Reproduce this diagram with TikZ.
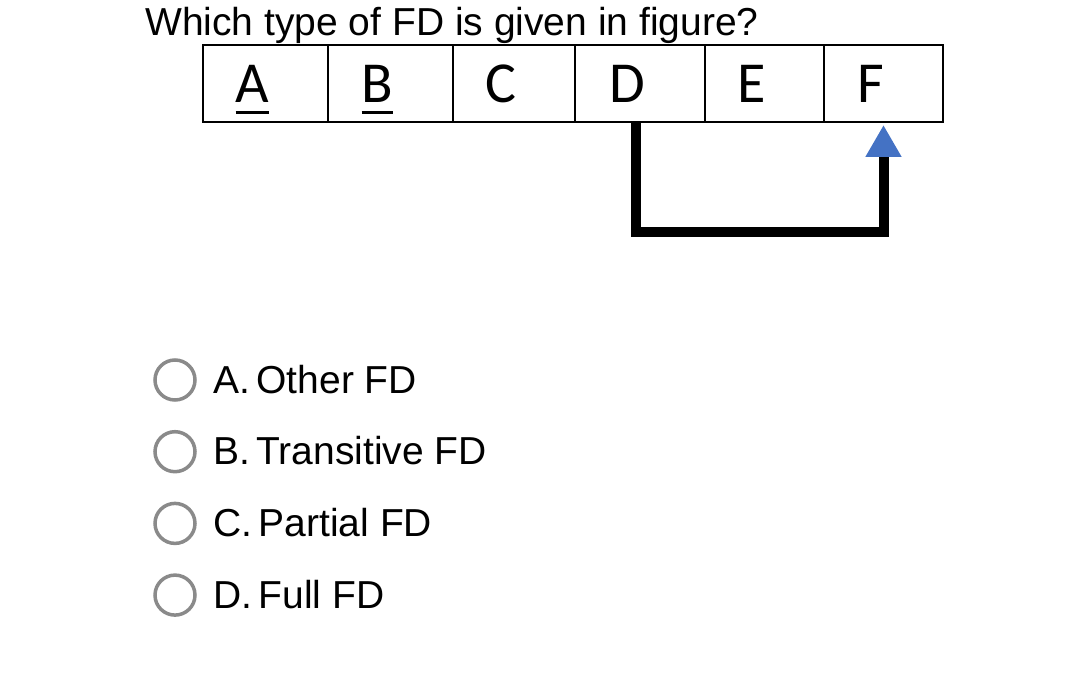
\documentclass[tikz,border=0pt]{standalone}
\usepackage{fontspec}
\setmainfont{Liberation Sans}
\newfontfamily\cellfont{Carlito}
\usetikzlibrary{positioning,arrows.meta}
\definecolor{fdblue}{HTML}{4472C4}
\definecolor{radiogray}{HTML}{8A8A8A}

\begin{document}
\begin{tikzpicture}[x=1pt,y=1pt]
\tikzstyle{cell}=[rectangle,draw,line width=2pt,outer sep=0pt,minimum height=77pt]
\tikzstyle{letter}=[inner sep=0pt,font=\cellfont\fontsize{58}{62}\selectfont]
\tikzstyle{uline}=[line width=2.5pt]
\tikzstyle{fdarrow}=[line width=10pt,-{Triangle[length=32pt,width=34pt,color=fdblue]}]
\tikzstyle{radio}=[circle,draw=radiogray,line width=3.5pt,minimum size=40pt,inner sep=0pt]
\tikzstyle{answer}=[anchor=base west,inner sep=0pt,font=\fontsize{39}{45}\selectfont]
\useasboundingbox (0,0) rectangle (1080,-682);

\node[answer] (title) at (145,-36) {Which type of FD is given in figure?};

% relation
\node[cell,minimum width=125pt] (cA) at (265.5,-83.5) {};
\node[cell,minimum width=125pt,right=0pt of cA] (cB) {};
\node[cell,minimum width=122pt,right=0pt of cB] (cC) {};
\node[cell,minimum width=130pt,right=0pt of cC] (cD) {};
\node[cell,minimum width=119pt,right=0pt of cD] (cE) {};
\node[cell,minimum width=119pt,right=0pt of cE] (cF) {};

\foreach \c in {A,B,C,D,E,F}
  \node[letter] (l\c) at ([xshift=-13pt]c\c.center) {\c};

% key attributes
\draw[uline] ([yshift=-10pt]lA.south west) -- ([yshift=-10pt]lA.south east);
\draw[uline] ([yshift=-10pt]lB.south west) -- ([yshift=-10pt]lB.south east);

% D -> F
\coordinate (turn) at ([yshift=-110pt]cF.south);
\draw[fdarrow] ([xshift=-4pt]cD.south) |- (turn) -- ([yshift=-3pt]cF.south);

% options
\foreach \opt/\txt [count=\i] in {A/Other FD,B/Transitive FD,C/Partial FD,D/Full FD}{
  \node[radio] (r\opt) at (175,{-380-71.7*(\i-1)}) {};
  \node[answer] (o\opt) at (213,{-393-71.7*(\i-1)}) {\opt.\,\txt};
}
\end{tikzpicture}
\end{document}
